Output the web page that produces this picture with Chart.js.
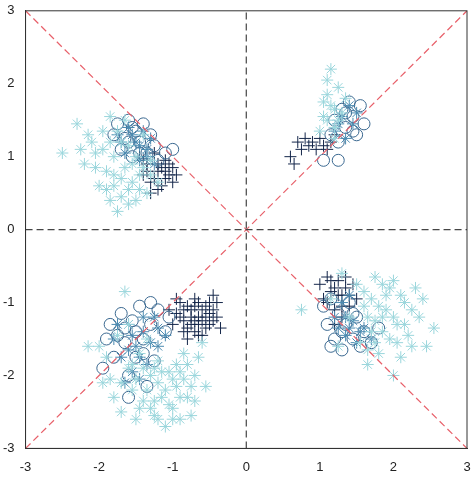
<!DOCTYPE html><html><head><script src="https://cdn.jsdelivr.net/npm/chart.js@4"></script>
<style>body{margin:0;background:#fff}#w{width:474px;height:478px}</style></head><body><div id="w"><canvas id="c"></canvas></div>
<script>
const ticks=[-3,-2,-1,0,1,2,3];
const stars=[ // light cyan asterisks [x,y,...]
-2.5,1.05,-2.3,1.45,-2.2,0.9,-2.1,1.2,-2.0,0.6,-1.95,1.35,-1.9,0.8,-1.85,0.4,-1.8,1.0,-1.75,0.25,-1.7,0.7,-1.65,1.5,-1.6,0.55,-1.55,0.9,-1.5,0.4,-1.45,0.75,-1.4,1.3,-1.35,0.5,-1.3,0.95,-1.2,0.65,-2.05,1.05,-1.85,1.55,-1.7,1.2,
-2.15,1.3,-2.05,0.85,-1.95,1.1,-1.9,0.55,-1.8,0.75,-1.75,1.35,-1.7,0.45,-1.65,0.85,-1.6,1.15,-1.55,0.65,-1.5,1.0,-1.45,0.55,-1.4,0.85,-1.3,0.75,-2.25,1.1,-1.85,1.2,-1.6,0.35,-1.8,0.6,
1.05,1.55,1.1,1.85,1.1,2.05,1.15,1.7,1.2,1.4,1.15,2.2,1.25,1.95,1.3,1.6,1.0,1.35,1.2,1.25,1.35,1.8,1.1,1.5,1.05,1.75,1.2,1.65,1.25,1.5,
-2.0,-1.6,-1.95,-2.1,-1.9,-1.75,-1.8,-2.3,-1.75,-1.45,-1.7,-2.5,-1.6,-1.9,-1.55,-2.2,-1.5,-2.6,-1.45,-1.7,-1.4,-2.35,-1.3,-2.0,-1.25,-2.55,-1.2,-1.8,-1.15,-2.3,-1.1,-2.7,-1.05,-1.95,-1.0,-2.45,-0.95,-2.15,-0.9,-2.6,-0.85,-1.7,-0.8,-2.3,-0.7,-2.0,-0.6,-1.55,-0.55,-2.15,-2.15,-1.6,-1.65,-0.85,-1.35,-1.5,-1.6,-1.3,-1.25,-2.35,-0.75,-2.55,
-1.5,-2.05,-1.4,-1.9,-1.35,-2.2,-1.3,-2.45,-1.2,-2.1,-1.15,-1.95,-1.1,-2.2,-1.05,-2.4,-1.0,-2.05,-0.95,-1.85,-0.9,-2.3,-0.85,-2.05,-0.8,-1.85,-0.75,-2.15,-0.7,-2.35,-0.65,-1.75,-1.25,-1.9,-1.45,-2.45,-1.55,-1.85,-1.7,-2.1,-1.85,-2.05,-1.2,-2.6,-1.0,-2.6,-0.9,-1.95,
1.15,-0.95,1.3,-0.6,1.4,-1.2,1.5,-0.75,1.55,-1.55,1.6,-1.05,1.7,-1.4,1.75,-0.65,1.8,-1.7,1.85,-1.2,1.9,-0.9,1.95,-1.5,2.0,-0.7,2.05,-1.3,2.1,-1.75,2.15,-1.0,2.2,-1.45,2.3,-0.8,2.35,-1.2,2.45,-1.6,2.55,-1.35,2.0,-2.0,1.65,-1.85,0.75,-1.1,1.25,-1.6,
1.6,-0.85,1.65,-1.2,1.7,-0.95,1.75,-1.55,1.8,-1.05,1.85,-1.4,1.9,-1.1,1.95,-0.8,2.0,-1.2,2.05,-1.55,2.1,-0.9,2.15,-1.3,2.25,-1.1,2.25,-1.6,1.75,-1.25,1.85,-0.75,1.65,-1.65,2.4,-0.95];
const mids=[ // mid blue filled asterisks
-1.75,1.3,-1.65,1.05,-1.6,1.4,-1.5,1.2,-1.45,0.95,-1.4,1.35,-1.35,1.1,-1.3,1.25,-1.25,0.9,-1.55,1.3,-1.45,1.15,-1.35,1.0,-1.7,1.2,
1.2,1.35,1.3,1.55,1.4,1.7,1.45,1.45,1.35,1.25,1.5,1.6,1.25,1.45,
-1.8,-1.5,-1.7,-1.75,-1.6,-1.3,-1.55,-1.95,-1.5,-1.6,-1.4,-1.4,-1.35,-1.85,-1.25,-1.2,-1.2,-1.6,-1.1,-1.45,-1.45,-2.05,-1.65,-2.1,-1.75,-1.3,-1.55,-1.45,-1.45,-1.75,-1.3,-1.55,-1.2,-1.35,-1.6,-1.65,-1.4,-1.2,
1.2,-1.2,1.3,-1.0,1.35,-1.45,1.45,-1.25,1.5,-1.55,1.6,-1.35,1.4,-0.9,1.7,-1.5,1.25,-1.35,1.35,-1.2,1.55,-1.4,1.4,-1.35];
const circles=[
-1.8,1.3,-1.75,1.45,-1.7,1.1,-1.65,1.25,-1.6,1.5,-1.55,1.0,-1.5,1.35,-1.45,1.2,-1.4,1.45,-1.35,1.05,-1.3,1.3,-1.25,1.15,-1.2,0.95,-1.1,1.05,-1.0,1.1,-1.55,1.4,-1.45,1.05,-1.6,1.2,
1.05,0.95,1.15,1.3,1.2,1.5,1.25,1.2,1.3,1.65,1.35,1.4,1.4,1.75,1.45,1.55,1.5,1.3,1.55,1.7,1.6,1.45,1.25,0.95,1.35,1.6,1.45,1.35,
-1.9,-1.5,-1.85,-1.3,-1.8,-1.75,-1.7,-1.15,-1.65,-1.55,-1.6,-2.0,-1.55,-1.25,-1.5,-1.75,-1.45,-1.05,-1.4,-1.5,-1.35,-2.15,-1.3,-1.3,-1.25,-1.8,-1.2,-1.1,-1.1,-1.4,-1.05,-1.2,-1.6,-2.3,-1.95,-1.9,-1.75,-1.45,-1.5,-1.4,-1.4,-1.7,-1.3,-1.0,-1.65,-1.35,
1.05,-1.05,1.1,-1.3,1.15,-0.95,1.2,-1.5,1.25,-1.15,1.3,-1.65,1.35,-1.3,1.4,-1.0,1.45,-1.5,1.5,-1.2,1.55,-1.6,1.6,-1.4,1.7,-1.55,1.8,-1.35,1.15,-1.6,1.3,-1.4,1.45,-1.15];
const pluses=[
-1.45,1.0,-1.4,0.75,-1.35,0.9,-1.3,0.65,-1.25,1.05,-1.2,0.8,-1.15,0.6,-1.1,0.95,-1.05,0.75,-1.0,0.85,-1.0,0.65,-1.15,0.85,-1.3,0.5,-1.25,0.7,-1.1,0.7,-1.2,0.9,-1.35,0.8,-1.05,0.9,-1.2,0.55,-0.95,0.75,-1.4,0.95,-1.1,0.8,
0.6,1.0,0.65,0.9,0.7,1.2,0.75,1.1,0.8,1.25,0.85,1.15,0.9,1.2,0.95,1.1,1.0,1.25,1.05,1.15,1.1,1.1,1.15,1.2,1.2,1.3,
-1.05,-1.1,-1.0,-1.3,-0.95,-0.95,-0.9,-1.2,-0.85,-1.4,-0.8,-1.05,-0.75,-1.3,-0.7,-0.95,-0.65,-1.2,-0.6,-1.45,-0.55,-1.05,-0.5,-1.3,-0.45,-0.9,-0.4,-1.2,-0.35,-1.35,-0.8,-1.5,-0.65,-1.0,-0.5,-1.15,-0.9,-1.0,-0.7,-1.25,
-0.95,-1.15,-0.85,-1.25,-0.8,-1.35,-0.75,-1.1,-0.7,-1.4,-0.65,-1.3,-0.6,-1.1,-0.6,-1.25,-0.55,-1.35,-0.55,-1.2,-0.5,-1.0,-0.45,-1.25,-0.45,-1.1,-0.4,-1.0,-0.75,-1.2,-0.85,-1.1,-0.7,-1.05,-0.65,-1.45,
1.0,-0.75,1.05,-0.95,1.1,-0.65,1.15,-0.85,1.2,-1.1,1.25,-0.7,1.3,-0.9,1.35,-0.8,1.4,-1.05,1.45,-0.75,1.5,-0.95,1.2,-1.3,1.3,-1.2,1.1,-1.0,1.15,-0.7,1.25,-0.9,1.35,-0.65,1.4,-0.9,1.2,-0.8,1.3,-1.05];
const vline=[0,-3,0,3], hline=[-3,0,3,0], diag1=[-3,-3,3,3], diag2=[-3,3,3,-3];
const pts=a=>{const r=[];for(let i=0;i<a.length;i+=2)r.push({x:a[i],y:a[i+1]});return r;};
const sc=(d,c,st,r,fill)=>({type:'scatter',data:pts(d),pointStyle:st,pointRadius:r,borderColor:c,backgroundColor:fill||c,borderWidth:1});
const ln=(d,c)=>({type:'line',data:pts(d),borderColor:c,borderWidth:1.2,borderDash:[7,4],pointRadius:0,fill:false});
new Chart(document.getElementById('c'),{type:'scatter',data:{datasets:[
ln(vline,'#444'),ln(hline,'#444'),ln(diag1,'#e8606a'),ln(diag2,'#e8606a'),
sc(stars,'#9ad6dc','star',6),sc(mids,'#4a8ab0','star',6),
sc(circles,'#3a6890','circle',6,'rgba(0,0,0,0)'),sc(pluses,'#14264a','cross',6)]},
options:{animation:false,responsive:true,maintainAspectRatio:false,layout:{padding:{right:6,top:6}},
plugins:{legend:{display:false},tooltip:{enabled:false}},
scales:{x:{min:-3,max:3,grid:{display:false},border:{color:'#333'},ticks:{stepSize:1,color:'#222',font:{size:13,family:'Liberation Sans'}}},
y:{min:-3,max:3,grid:{display:false},border:{color:'#333'},ticks:{stepSize:1,color:'#222',font:{size:13,family:'Liberation Sans'}}}}},
plugins:[{id:'box',afterDraw(ch){const a=ch.chartArea,x=ch.ctx;x.save();x.strokeStyle='#333';x.lineWidth=1;x.strokeRect(a.left,a.top,a.right-a.left,a.bottom-a.top);x.restore();}}]});
</script></body></html>
